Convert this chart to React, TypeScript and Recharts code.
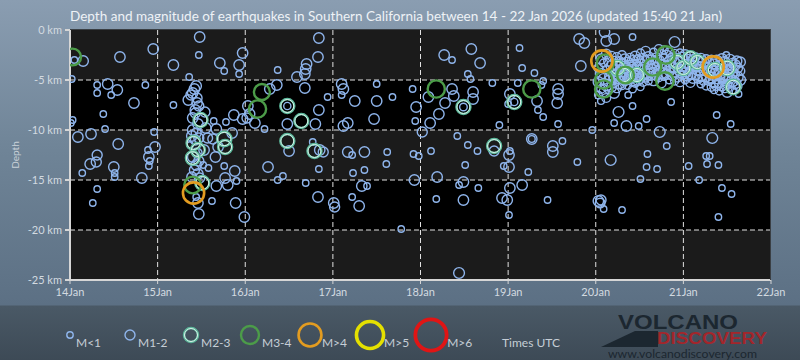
import { ScatterChart, Scatter, XAxis, YAxis, CartesianGrid } from "recharts";

// [date in January 2026, depth in km, magnitude]
type Quake = [number, number, number];

const dayTicks = [14, 15, 16, 17, 18, 19, 20, 21, 22];
const depthTicks = [0, -5, -10, -15, -20, -25];
const gridDays = [15, 16, 17, 18, 19, 20, 21];
const gridDepths = [-5, -10, -15, -20];

// M < 2, 14 - 17 Jan
const quakesEarly: Quake[] = [
  [14.05, -3.0, 0.6], [14.15, -3.1, 1.6], [14.57, -2.7, 1.6], [14.95, -1.9, 1.6],
  [14.02, -4.9, 0.6], [14.31, -5.5, 0.6], [14.31, -6.3, 0.6], [14.43, -5.4, 1.6],
  [14.54, -6.0, 1.6], [14.47, -6.5, 0.6], [14.86, -5.5, 0.6], [14.73, -7.3, 1.6],
  [14.38, -8.4, 0.6], [14.03, -9.0, 0.6], [14.01, -9.3, 0.6], [14.4, -9.9, 0.6],
  [14.09, -10.7, 1.6], [14.24, -10.4, 1.6], [14.55, -11.4, 1.6], [14.31, -12.5, 1.5],
  [14.23, -13.4, 1.6], [14.3, -13.2, 1.5], [14.14, -14.3, 0.6], [14.5, -13.7, 1.6],
  [14.51, -14.3, 0.6], [14.51, -14.7, 0.6], [14.82, -14.8, 1.6], [14.31, -15.9, 0.6],
  [14.26, -17.3, 0.6], [14.96, -10.2, 0.6], [14.97, -11.7, 1.6], [14.89, -12.0, 0.6],
  [14.9, -12.7, 1.6], [14.9, -13.6, 0.6], [14.91, -13.1, 0.6],
  [15.18, -3.5, 1.6], [15.48, -0.7, 1.6], [15.47, -2.5, 0.6], [15.71, -3.3, 1.6],
  [15.76, -4.1, 0.6], [15.93, -3.5, 1.6], [15.93, -4.4, 0.6], [15.97, -2.3, 1.6],
  [15.36, -4.7, 0.6], [15.18, -7.5, 0.6],
  [15.44, -5.6, 1.6], [15.42, -5.9, 1.6], [15.4, -6.3, 1.6], [15.38, -6.5, 1.5],
  [15.45, -6.8, 1.5], [15.45, -7.3, 1.6], [15.47, -7.6, 1.5], [15.43, -8.0, 1.6],
  [15.43, -8.3, 1.5], [15.4, -8.8, 1.6], [15.46, -9.4, 1.6], [15.4, -10.0, 1.6],
  [15.44, -10.3, 1.5], [15.39, -10.6, 1.6], [15.47, -10.8, 1.5], [15.43, -11.0, 1.5],
  [15.45, -12.3, 1.5], [15.4, -12.7, 1.6], [15.47, -13.1, 1.5], [15.44, -13.5, 1.6],
  [15.42, -14.0, 1.5], [15.46, -14.4, 1.6], [15.39, -14.7, 1.5], [15.48, -14.8, 1.5],
  [15.46, -17.3, 1.6], [15.47, -18.4, 1.6], [15.44, -16.7, 0.6], [15.62, -17.1, 0.6],
  [15.89, -17.3, 1.6], [15.99, -18.7, 1.6], [15.64, -9.1, 0.6], [15.78, -9.2, 0.6],
  [15.87, -8.5, 1.6], [15.97, -8.9, 1.6], [15.67, -9.9, 1.6], [15.55, -9.8, 1.6],
  [15.85, -10.3, 1.6], [15.63, -10.9, 1.5], [15.69, -11.7, 1.6], [15.66, -12.7, 1.6],
  [15.88, -14.1, 1.6], [15.77, -14.8, 1.6], [15.8, -15.5, 1.6], [15.67, -15.6, 1.6],
  [15.9, -15.1, 0.6], [15.76, -13.6, 0.6], [15.58, -13.8, 0.6], [15.52, -13.5, 0.6],
  [15.35, -7.0, 1.6], [15.54, -8.2, 1.5], [15.37, -11.5, 0.6], [15.53, -12.0, 1.6],
  [15.57, -10.8, 1.5],
  [16.84, -0.8, 1.6], [16.83, -2.7, 1.6], [16.7, -3.4, 1.6], [16.69, -3.9, 1.6],
  [16.68, -4.4, 1.6], [16.37, -4.0, 0.6], [16.59, -4.7, 1.6], [16.36, -5.5, 1.6],
  [16.28, -5.9, 1.6], [16.68, -5.8, 1.6], [16.94, -6.7, 0.6], [16.03, -7.6, 1.6],
  [16.05, -8.4, 1.6], [16.02, -8.8, 1.5], [16.11, -9.3, 1.6], [16.22, -9.9, 0.6],
  [16.84, -8.0, 1.6], [16.48, -7.6, 0.8], [16.48, -9.4, 1.6], [16.8, -9.4, 1.6],
  [16.5, -12.1, 1.6], [16.77, -11.2, 0.6], [16.85, -12.0, 1.6], [16.26, -13.7, 1.6],
  [16.37, -15.0, 0.6], [16.43, -14.6, 0.6], [16.69, -15.3, 0.6], [16.84, -13.9, 0.6],
  [16.83, -16.7, 1.6], [16.89, -12.2, 1.5],
];

// M < 2, 17 - 20 Jan
const quakesMiddle: Quake[] = [
  [17.01, -17.3, 1.6], [17.02, -17.7, 1.5], [17.1, -5.4, 1.6], [17.12, -5.9, 1.6],
  [17.1, -6.5, 0.6], [17.25, -7.1, 1.6], [17.5, -5.4, 0.6], [17.5, -7.1, 1.6],
  [17.68, -6.7, 0.6], [17.47, -8.9, 1.6], [17.17, -9.3, 1.6], [17.12, -9.6, 1.6],
  [17.91, -5.9, 0.6], [17.95, -7.7, 1.6], [17.94, -9.1, 0.6], [17.17, -12.2, 1.6],
  [17.36, -12.2, 1.6], [17.62, -12.2, 0.6], [17.92, -12.4, 0.6], [17.22, -12.5, 0.6],
  [17.23, -14.3, 0.6], [17.36, -14.0, 0.6], [17.61, -13.4, 0.6], [17.98, -12.6, 0.6],
  [17.33, -15.6, 1.6], [17.39, -15.6, 0.6], [17.22, -16.7, 0.6], [17.3, -17.6, 1.6],
  [17.93, -15.0, 1.6], [17.78, -19.9, 0.6],
  [18.27, -2.5, 1.6], [18.36, -3.0, 0.6], [18.58, -1.9, 1.6], [18.68, -3.3, 1.6],
  [18.54, -4.4, 0.6], [18.57, -4.9, 0.6], [18.36, -5.9, 1.6], [18.38, -6.6, 1.6],
  [18.28, -7.3, 1.6], [18.09, -6.7, 1.6], [18.6, -6.2, 1.6], [18.6, -6.9, 1.6],
  [18.82, -5.3, 0.6], [18.21, -8.4, 1.6], [18.11, -9.3, 1.6], [18.02, -10.2, 1.5],
  [18.9, -9.5, 0.6], [18.42, -10.6, 0.6], [18.54, -11.5, 0.6], [18.65, -12.1, 0.6],
  [18.12, -12.1, 0.6], [18.84, -12.1, 1.5], [18.19, -14.7, 1.6], [18.18, -16.9, 0.6],
  [18.49, -15.2, 1.6], [18.44, -15.5, 0.6], [18.49, -17.0, 1.6], [18.66, -15.8, 0.6],
  [18.51, -13.5, 0.6], [18.44, -24.3, 1.7], [18.95, -13.6, 0.6], [19.01, -12.5, 1.6],
  [18.49, -7.7, 0.9],
  [19.01, -13.7, 1.6], [19.02, -15.8, 1.6], [19.16, -15.5, 1.6], [18.93, -16.8, 1.6],
  [18.99, -17.0, 1.6], [19.01, -18.5, 0.6], [19.23, -14.2, 0.6], [19.45, -17.0, 0.6],
  [19.51, -12.2, 1.6], [19.79, -13.2, 0.6], [20.03, -17.1, 1.6], [19.13, -1.8, 0.6],
  [19.16, -3.8, 0.6], [19.3, -4.3, 0.6], [19.11, -5.3, 0.6], [19.4, -5.1, 0.6],
  [19.38, -5.5, 0.6], [19.02, -6.4, 1.6], [19.0, -7.4, 0.6], [19.33, -7.1, 1.6],
  [19.57, -5.9, 1.6], [19.57, -6.4, 1.6], [19.56, -7.3, 1.6], [19.34, -8.0, 0.6],
  [19.4, -8.7, 0.6], [19.57, -9.4, 0.6], [19.27, -10.9, 1.6], [19.27, -10.9, 0.7],
  [19.51, -11.6, 1.6], [19.62, -11.1, 0.6], [19.96, -10.0, 0.6], [19.81, -0.9, 1.6],
  [19.87, -1.3, 1.6], [19.83, -3.6, 1.6], [19.02, -12.1, 0.6], [19.07, -7.2, 0.8],
];

// M < 2, 20 - 22 Jan swarm and scattered events
const quakesSwarm: Quake[] = [
  [20.1, -0.2, 1.6], [20.12, -1.1, 1.6], [20.21, -0.9, 1.6], [20.42, -0.7, 0.6],
  [20.9, -1.2, 1.7], [21.49, -2.5, 0.6], [21.61, -3.1, 1.5], [21.63, -6.4, 0.6],
  [20.26, -8.2, 1.7], [20.21, -9.3, 0.6], [20.35, -9.6, 1.6], [20.42, -7.6, 0.6],
  [20.49, -9.6, 0.6], [20.58, -8.9, 0.6], [20.86, -7.2, 0.6], [20.37, -6.5, 0.6],
  [20.73, -10.2, 1.7], [20.81, -11.6, 0.6], [21.38, -8.5, 0.6], [21.54, -9.4, 0.6],
  [21.33, -10.8, 1.7], [20.17, -13.0, 1.7], [20.59, -12.4, 0.6], [20.58, -13.7, 0.6],
  [20.7, -13.9, 0.6], [20.51, -14.9, 0.6], [21.06, -13.6, 0.6], [21.18, -15.0, 0.6],
  [21.27, -13.4, 0.6], [21.26, -12.6, 0.6], [21.3, -12.6, 0.6], [21.4, -13.5, 0.6],
  [21.44, -15.8, 0.6], [21.55, -16.4, 0.6], [20.06, -17.0, 1.5], [20.05, -17.3, 1.4],
  [20.09, -17.9, 0.6], [20.3, -18.0, 0.6], [21.4, -18.7, 0.6],
  [20.03, -3.8, 1.2], [20.03, -5.2, 1.6], [20.03, -6.5, 0.9],
  [20.06, -2.9, 1.5], [20.06, -4.4, 1.8], [20.06, -5.9, 1.1], [20.06, -7.1, 0.7],
  [20.09, -3.3, 1.0], [20.09, -4.9, 1.7], [20.09, -6.2, 1.3],
  [20.12, -2.4, 1.4], [20.12, -3.9, 0.8], [20.12, -5.5, 1.9], [20.12, -6.8, 1.2],
  [20.15, -3.1, 1.6], [20.15, -4.6, 1.1], [20.15, -5.1, 1.8], [20.15, -6.0, 0.9],
  [20.18, -2.6, 1.3], [20.18, -3.6, 1.7], [20.18, -4.2, 1.0], [20.18, -5.7, 1.5],
  [20.21, -3.0, 0.8], [20.21, -4.0, 1.9], [20.21, -4.8, 1.4], [20.21, -5.3, 1.1], [20.21, -6.3, 1.6],
  [20.24, -2.7, 1.2], [20.24, -3.5, 1.8], [20.24, -4.4, 1.5], [20.24, -5.0, 0.9], [20.24, -5.8, 1.3],
  [20.27, -3.2, 1.7], [20.27, -3.9, 1.0], [20.27, -4.6, 1.9], [20.27, -5.4, 1.4],
  [20.3, -2.5, 1.1], [20.3, -3.4, 1.6], [20.3, -4.1, 1.9], [20.3, -4.7, 1.3], [20.3, -5.6, 0.8],
  [20.33, -2.9, 1.5], [20.33, -3.7, 1.9], [20.33, -4.3, 1.2], [20.33, -4.9, 1.8], [20.33, -5.2, 1.0],
  [20.36, -3.3, 1.9], [20.36, -4.0, 1.4], [20.36, -4.5, 1.8], [20.36, -5.5, 1.1],
  [20.39, -2.8, 1.3], [20.39, -3.6, 1.9], [20.39, -4.2, 1.6], [20.39, -4.8, 1.9],
  [20.42, -3.1, 1.7], [20.42, -3.9, 1.2], [20.42, -4.4, 1.9], [20.42, -5.1, 1.5], [20.42, -5.9, 0.9],
  [20.45, -2.6, 1.4], [20.45, -3.5, 1.8], [20.45, -4.6, 1.9], [20.45, -5.3, 1.1],
  [20.48, -3.0, 1.6], [20.48, -3.8, 1.9], [20.48, -4.3, 1.3], [20.48, -5.0, 1.7],
  [20.51, -2.3, 1.0], [20.51, -3.4, 1.5], [20.51, -4.1, 1.9], [20.51, -4.9, 1.2], [20.51, -5.7, 0.8],
  [20.54, -2.9, 1.8], [20.54, -3.7, 1.4], [20.54, -4.5, 1.6], [20.54, -5.2, 1.1],
  [20.57, -2.1, 1.3], [20.57, -3.2, 1.7], [20.57, -4.0, 1.0], [20.57, -4.7, 1.5],
  [20.6, -2.7, 1.6], [20.6, -3.5, 1.2], [20.6, -4.4, 1.8], [20.6, -5.1, 0.9],
  [20.63, -3.0, 1.4], [20.63, -3.9, 1.7], [20.63, -4.6, 1.1],
  [20.66, -2.2, 0.9], [20.66, -3.3, 1.6], [20.66, -4.2, 1.3], [20.66, -5.0, 1.8],
  [20.69, -2.8, 1.5], [20.69, -3.6, 1.0], [20.69, -4.5, 1.7],
  [20.72, -1.9, 1.2], [20.72, -3.1, 1.8], [20.72, -4.0, 1.4], [20.72, -4.8, 0.8],
  [20.75, -2.5, 1.6], [20.75, -3.4, 1.1], [20.75, -4.3, 1.9], [20.75, -5.3, 1.3],
  [20.78, -2.0, 1.0], [20.78, -2.9, 1.5], [20.78, -3.8, 1.7], [20.78, -4.6, 1.2],
  [20.81, -2.6, 1.8], [20.81, -3.5, 1.3], [20.81, -4.4, 1.6],
  [20.84, -2.2, 1.1], [20.84, -3.2, 1.7], [20.84, -4.1, 1.4], [20.84, -5.0, 0.9],
  [20.87, -2.8, 1.5], [20.87, -3.7, 1.9], [20.87, -4.6, 1.2],
  [20.9, -2.4, 1.3], [20.9, -3.3, 1.8], [20.9, -4.2, 1.6], [20.9, -5.1, 1.0],
  [20.93, -2.9, 1.7], [20.93, -3.8, 1.2], [20.93, -4.7, 1.5],
  [20.96, -2.3, 1.0], [20.96, -3.1, 1.6], [20.96, -4.0, 1.9], [20.96, -5.2, 1.3],
  [20.99, -2.7, 1.4], [20.99, -3.6, 1.8], [20.99, -4.5, 1.1],
  [21.02, -2.5, 1.6], [21.02, -3.4, 1.2], [21.02, -4.3, 1.7], [21.02, -5.0, 0.9],
  [21.05, -2.9, 1.3], [21.05, -3.8, 1.9], [21.05, -4.6, 1.5],
  [21.08, -2.6, 1.1], [21.08, -3.5, 1.6], [21.08, -4.4, 1.8], [21.08, -5.3, 1.2],
  [21.11, -3.0, 1.7], [21.11, -3.9, 1.3], [21.11, -4.8, 1.6],
  [21.14, -2.7, 1.0], [21.14, -3.6, 1.8], [21.14, -4.5, 1.4],
  [21.17, -3.1, 1.5], [21.17, -4.0, 1.9], [21.17, -4.9, 1.1],
  [21.2, -2.8, 1.3], [21.2, -3.7, 1.6], [21.2, -4.6, 1.8], [21.2, -5.4, 0.9],
  [21.23, -3.2, 1.7], [21.23, -4.1, 1.2], [21.23, -5.0, 1.5],
  [21.26, -2.9, 1.1], [21.26, -3.8, 1.9], [21.26, -4.7, 1.4], [21.26, -5.6, 1.0],
  [21.29, -3.3, 1.6], [21.29, -4.2, 1.8], [21.29, -5.1, 1.2],
  [21.32, -3.0, 1.4], [21.32, -3.9, 1.7], [21.32, -4.8, 1.9], [21.32, -5.7, 1.1],
  [21.35, -3.4, 1.5], [21.35, -4.3, 1.2], [21.35, -5.2, 1.8], [21.35, -6.0, 0.8],
  [21.38, -3.1, 1.9], [21.38, -4.0, 1.6], [21.38, -4.9, 1.3], [21.38, -5.5, 1.7],
  [21.41, -3.5, 1.2], [21.41, -4.4, 1.8], [21.41, -5.3, 1.5], [21.41, -6.1, 1.0],
  [21.44, -2.9, 1.6], [21.44, -3.8, 1.3], [21.44, -4.7, 1.9], [21.44, -5.6, 1.4],
  [21.47, -3.2, 1.7], [21.47, -4.1, 1.1], [21.47, -5.0, 1.8], [21.47, -5.8, 1.3],
  [21.5, -3.6, 1.5], [21.5, -4.5, 1.9], [21.5, -5.4, 1.2], [21.5, -6.2, 1.6],
  [21.53, -3.0, 1.8], [21.53, -3.9, 1.4], [21.53, -4.8, 1.6], [21.53, -5.7, 1.1],
  [21.56, -3.3, 1.3], [21.56, -4.2, 1.7], [21.56, -5.1, 1.9], [21.56, -6.0, 1.0],
  [21.59, -3.5, 1.6], [21.59, -4.4, 1.2], [21.59, -5.3, 1.8],
  [21.62, -3.8, 1.4], [21.62, -4.7, 1.7], [21.62, -5.6, 1.1],
  [21.65, -3.2, 1.5], [21.65, -4.1, 1.2], [21.65, -5.0, 1.6],
];

// M 2-3
const quakesM2: Quake[] = [
  [15.49, -9.0, 2.5], [15.41, -11.3, 2.5], [15.46, -12.0, 2.5], [15.4, -12.8, 2.4],
  [15.51, -15.3, 2.5], [15.76, -10.9, 2.6], [15.77, -11.7, 2.5],
  [16.48, -7.6, 2.5], [16.64, -9.1, 2.5], [16.48, -11.1, 2.5], [16.79, -12.1, 2.5],
  [18.49, -7.7, 2.5], [18.84, -11.6, 2.5], [19.07, -7.2, 2.5],
  [20.25, -3.8, 2.5], [20.32, -4.5, 2.6], [20.47, -4.5, 2.5], [20.93, -3.2, 2.5],
  [21.0, -3.8, 2.5], [21.08, -2.8, 2.4], [21.16, -3.2, 2.5], [21.36, -4.0, 2.5],
  [21.5, -3.8, 2.6], [21.57, -5.7, 2.6],
];

// M 3-4
const quakesM3: Quake[] = [
  [14.03, -2.7, 3.2], [15.4, -15.5, 3.2], [16.19, -6.2, 3.0], [16.14, -7.9, 3.3],
  [18.18, -5.9, 3.3], [19.27, -5.9, 3.3], [20.11, -3.3, 3.3], [20.09, -5.0, 3.3],
  [20.09, -5.9, 3.3], [20.34, -4.5, 3.2], [20.65, -3.7, 3.3], [20.8, -2.5, 3.4],
  [20.79, -5.1, 3.4],
];

// M > 4
const quakesM4: Quake[] = [
  [15.41, -16.3, 4.1], [20.07, -3.1, 4.1], [21.34, -3.7, 4.1],
];

const legendItems = [
  { label: "M<1", mag: 0.6 },
  { label: "M1-2", mag: 1.5 },
  { label: "M2-3", mag: 2.5 },
  { label: "M3-4", mag: 3.5 },
  { label: "M>4", mag: 4.5 },
  { label: "M>5", mag: 5.5 },
  { label: "M>6", mag: 6.5 },
];

const toRows = (list: Quake[]) => list.map(([t, depth, mag]) => ({ t, depth, mag }));

const ringRadius = (mag: number) => (mag < 4 ? 2 + mag * 2 : 2 + mag * 2.1);

function ringStyle(mag: number) {
  if (mag < 2) return { stroke: "#8fb5ec", width: 1.4 };
  if (mag < 3) return { stroke: "#5db99c", width: 2.4 };
  if (mag < 4) return { stroke: "#4c9c49", width: 2.4 };
  if (mag < 5) return { stroke: "#e39c20", width: 2.6 };
  if (mag < 6) return { stroke: "#e4e000", width: 3.6 };
  return { stroke: "#e01515", width: 3.8 };
}

function Ring({ cx, cy, mag }: { cx: number; cy: number; mag: number }) {
  const r = ringRadius(mag);
  const s = ringStyle(mag);
  return (
    <g>
      <circle cx={cx} cy={cy} r={r} fill="none" stroke={s.stroke} strokeWidth={s.width} />
      {mag >= 2 && mag < 3 && (
        <circle cx={cx} cy={cy} r={r - 0.5} fill="none" stroke="#e6f7f1" strokeWidth={0.9} />
      )}
    </g>
  );
}

const QuakeShape = (props: any) => {
  if (props.cx == null || props.cy == null) return null;
  return <Ring cx={props.cx} cy={props.cy} mag={props.payload.mag} />;
};

const tickStyle = { fill: "#d3dae0", fontSize: 11, fontFamily: "Lato, sans-serif" };
const legendX = [70, 130, 191, 250, 310, 370, 431];

export default function App() {
  const blue = toRows([...quakesEarly, ...quakesMiddle, ...quakesSwarm]);
  return (
    <div
      style={{
        position: "absolute",
        left: 0,
        top: 0,
        width: 800,
        height: 360,
        overflow: "hidden",
        background:
          "linear-gradient(to bottom, #8a9db1 0px, #6f8497 150px, #5c7084 305px, #4a5966 306px, #3d4a56 360px)",
      }}
    >
      <div style={{ position: "absolute", left: 0, top: 0 }}>
        <ScatterChart width={800} height={360} margin={{ top: 30, right: 29, bottom: 50, left: 8 }}>
          <CartesianGrid stroke="none" vertical={false} horizontalFill={["#1b1b1b", "#000000"]} />
          <CartesianGrid
            stroke="#e2e2e2"
            strokeDasharray="5 3"
            horizontalValues={gridDepths}
            verticalValues={gridDays}
          />
          <XAxis
            type="number"
            dataKey="t"
            domain={[14, 22]}
            ticks={dayTicks}
            tickFormatter={(d: number) => `${d}Jan`}
            tick={tickStyle}
            tickSize={4}
            tickMargin={4}
            height={30}
            axisLine={{ stroke: "#d6d6d6", strokeWidth: 2 }}
            tickLine={{ stroke: "#d6d6d6" }}
            allowDataOverflow
          />
          <YAxis
            type="number"
            dataKey="depth"
            domain={[-25, 0]}
            ticks={depthTicks}
            tickFormatter={(v: number) => `${v} km`}
            tick={tickStyle}
            tickSize={5}
            tickMargin={3}
            width={62}
            axisLine={{ stroke: "#d6d6d6", strokeWidth: 2 }}
            tickLine={{ stroke: "#d6d6d6", strokeWidth: 2 }}
            allowDataOverflow
          />
          <Scatter data={blue} shape={QuakeShape} isAnimationActive={false} />
          <Scatter data={toRows(quakesM2)} shape={QuakeShape} isAnimationActive={false} />
          <Scatter data={toRows(quakesM3)} shape={QuakeShape} isAnimationActive={false} />
          <Scatter data={toRows(quakesM4)} shape={QuakeShape} isAnimationActive={false} />
        </ScatterChart>
      </div>
      <div
        style={{
          position: "absolute",
          left: 70,
          top: 29,
          width: 700,
          height: 250,
          borderTop: "1px solid #3a3f44",
          borderRight: "1px solid #3a3f44",
          pointerEvents: "none",
        }}
      />
      <svg
        width={800}
        height={360}
        style={{ position: "absolute", left: 0, top: 0, pointerEvents: "none" }}
        fontFamily="Lato, sans-serif"
      >
        <text x={70} y={21} fontSize={14} fill="#eef2f6" textLength={652} lengthAdjust="spacingAndGlyphs">
          Depth and magnitude of earthquakes in Southern California between 14 - 22 Jan 2026 (updated 15:40 21 Jan)
        </text>
        <text x={19} y={155} fontSize={10} fill="#c9d1d8" textAnchor="middle" transform="rotate(-90 19 155)">
          Depth
        </text>
        {legendItems.map((item, i) => {
          const r = i < 2 ? 3 + i * 2 : ringRadius(item.mag) - (i > 3 ? 2.5 : 0);
          return (
            <g key={item.label}>
              <Ring cx={legendX[i]} cy={335} mag={item.mag} />
              <text x={legendX[i] + r + 3} y={347} fontSize={12} fill="#c6ced6">
                {item.label}
              </text>
            </g>
          );
        })}
        <text x={502} y={347} fontSize={12} fill="#c6ced6">
          Times UTC
        </text>
        <polygon points="601,347 635,331 658,331 658,347" fill="#1c2730" />
        <text
          x={618}
          y={329}
          fontSize={20}
          fontWeight="bold"
          fontFamily="Liberation Sans, Arial, sans-serif"
          fill="#1c2730"
          textLength={120}
          lengthAdjust="spacingAndGlyphs"
        >
          VOLCANO
        </text>
        <text
          x={657}
          y={344}
          fontSize={16}
          fontWeight="bold"
          fontFamily="Liberation Sans, Arial, sans-serif"
          fill="#a3262b"
          textLength={110}
          lengthAdjust="spacingAndGlyphs"
        >
          DISCOVERY
        </text>
        <text x={608} y={358} fontSize={10.5} fill="#1c2730" textLength={149} lengthAdjust="spacingAndGlyphs">
          www.volcanodiscovery.com
        </text>
      </svg>
    </div>
  );
}
